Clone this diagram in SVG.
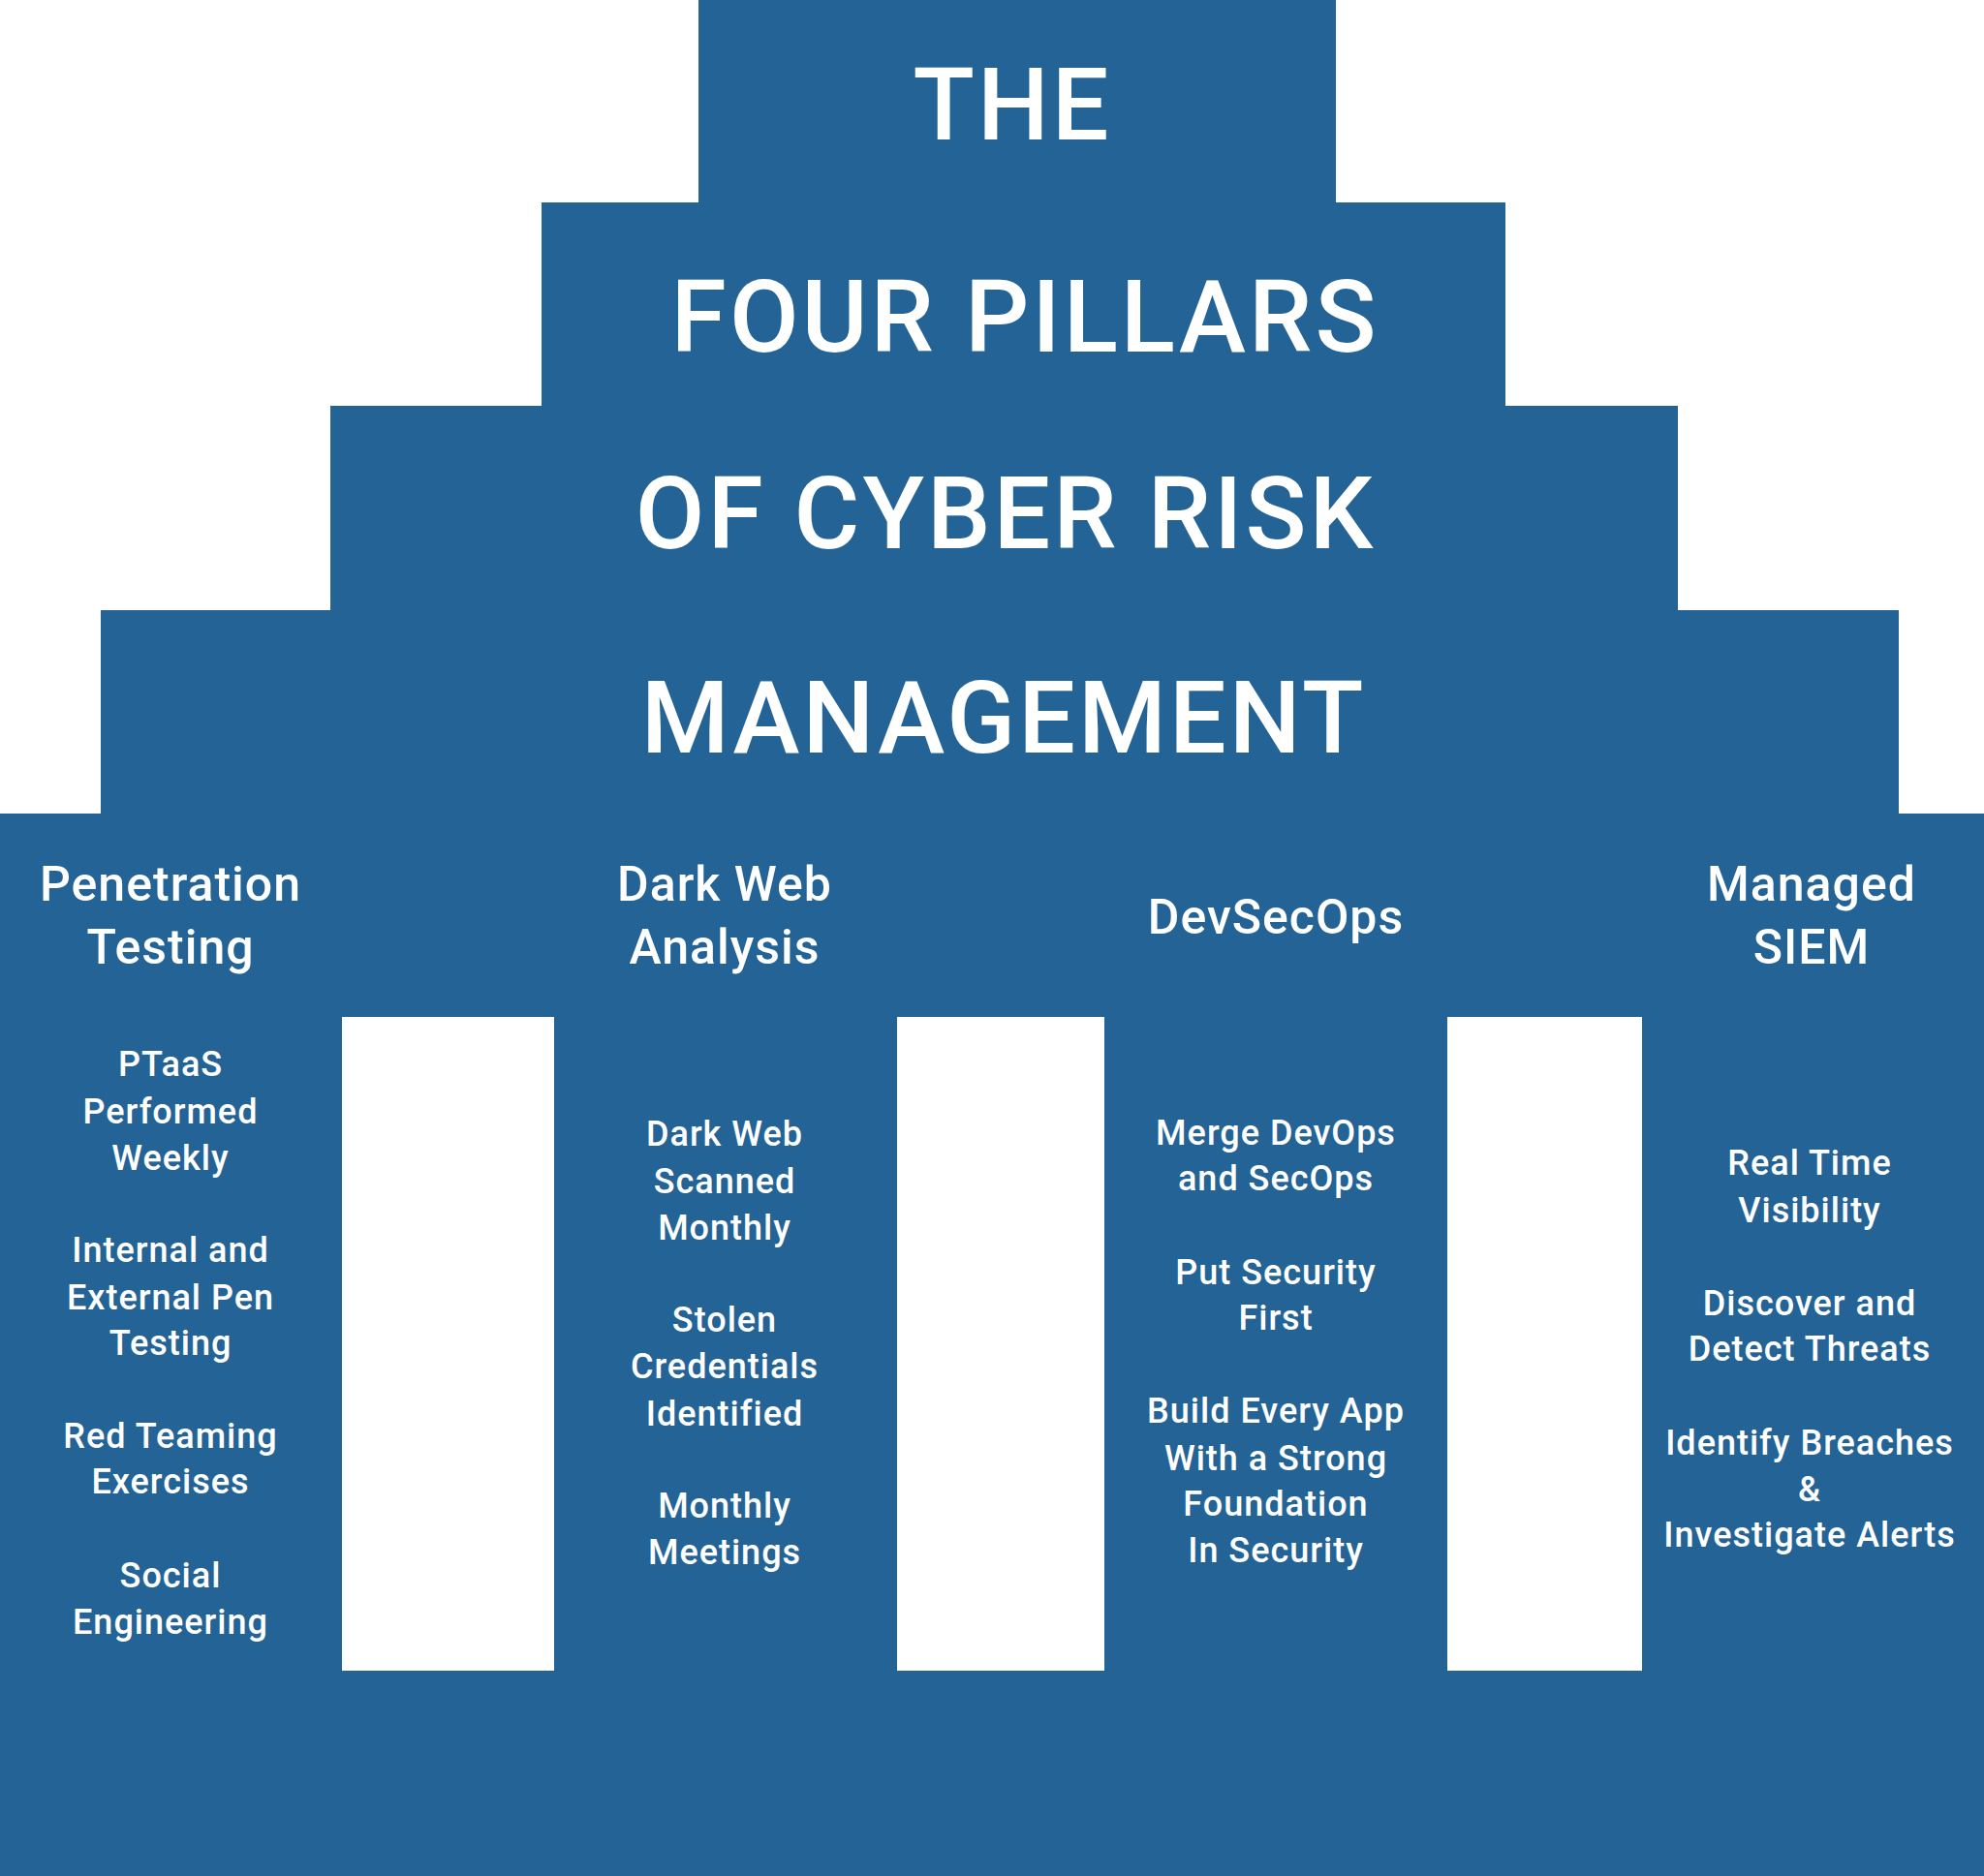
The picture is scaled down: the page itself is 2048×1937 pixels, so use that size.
<svg xmlns="http://www.w3.org/2000/svg" width="2048" height="1937" viewBox="0 0 2048 1937">
<style>
.b{fill:#246396}
.g{fill:#fff}
text{fill:#fff;font-family:Roboto,"Liberation Sans",sans-serif;text-anchor:middle}
.t{font-size:104px;font-weight:500;letter-spacing:3px}
.h{font-size:50px;font-weight:500;letter-spacing:1px}
.s{font-size:36px;font-weight:500;letter-spacing:1px}
</style>
<rect width="2048" height="1937" fill="#fff"/>
<g id="pyramid">
<rect class="b" x="721" y="0" width="658" height="212"/>
<rect class="b" x="559" y="209" width="995" height="213"/>
<rect class="b" x="341" y="419" width="1391" height="214"/>
<rect class="b" x="104" y="630" width="1856" height="213"/>
<rect class="b" x="0" y="840" width="2048" height="1097"/>
<rect class="g" x="353" y="1050" width="219" height="675"/>
<rect class="g" x="926" y="1050" width="214" height="675"/>
<rect class="g" x="1494" y="1050" width="201" height="675"/>
</g>
<g id="title">
<text class="t" x="1045" y="144">THE</text>
<text class="t" x="1058" y="363">FOUR PILLARS</text>
<text class="t" x="1038" y="566">OF CYBER RISK</text>
<text class="t" x="1036" y="777">MANAGEMENT</text>
</g>
<g id="pillar1">
<text class="h" x="176" y="930">Penetration</text>
<text class="h" x="176" y="995">Testing</text>
<text class="s" x="176" y="1111">PTaaS</text>
<text class="s" x="176" y="1160">Performed</text>
<text class="s" x="176" y="1208">Weekly</text>
<text class="s" x="176" y="1303">Internal and</text>
<text class="s" x="176" y="1352">External Pen</text>
<text class="s" x="176" y="1399">Testing</text>
<text class="s" x="176" y="1495">Red Teaming</text>
<text class="s" x="176" y="1542">Exercises</text>
<text class="s" x="176" y="1639">Social</text>
<text class="s" x="176" y="1687">Engineering</text>
</g>
<g id="pillar2">
<text class="h" x="748" y="930">Dark Web</text>
<text class="h" x="748" y="995">Analysis</text>
<text class="s" x="748" y="1183">Dark Web</text>
<text class="s" x="748" y="1232">Scanned</text>
<text class="s" x="748" y="1280">Monthly</text>
<text class="s" x="748" y="1375">Stolen</text>
<text class="s" x="748" y="1423">Credentials</text>
<text class="s" x="748" y="1472">Identified</text>
<text class="s" x="748" y="1567">Monthly</text>
<text class="s" x="748" y="1615">Meetings</text>
</g>
<g id="pillar3">
<text class="h" x="1317" y="964">DevSecOps</text>
<text class="s" x="1317" y="1182">Merge DevOps</text>
<text class="s" x="1317" y="1229">and SecOps</text>
<text class="s" x="1317" y="1326">Put Security</text>
<text class="s" x="1317" y="1373">First</text>
<text class="s" x="1317" y="1469">Build Every App</text>
<text class="s" x="1317" y="1518">With a Strong</text>
<text class="s" x="1317" y="1565">Foundation</text>
<text class="s" x="1317" y="1613">In Security</text>
</g>
<g id="pillar4">
<text class="h" x="1870" y="930">Managed</text>
<text class="h" x="1870" y="995">SIEM</text>
<text class="s" x="1868" y="1213">Real Time</text>
<text class="s" x="1868" y="1262">Visibility</text>
<text class="s" x="1868" y="1358">Discover and</text>
<text class="s" x="1868" y="1405">Detect Threats</text>
<text class="s" x="1868" y="1502">Identify Breaches</text>
<text class="s" x="1868" y="1550">&amp;</text>
<text class="s" x="1868" y="1597">Investigate Alerts</text>
</g>
<g id="connectors"/>
</svg>
